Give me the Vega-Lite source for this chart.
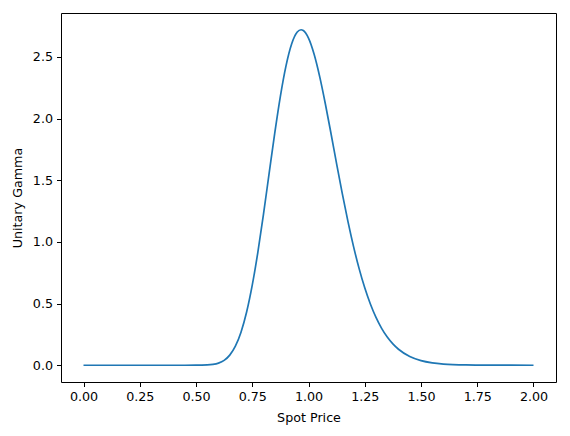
{
  "$schema": "https://vega.github.io/schema/vega-lite/v6.json",
  "width": 495,
  "height": 369,
  "padding": {"left": 61, "top": 13, "right": 14, "bottom": 54},
  "autosize": {"type": "none"},
  "background": "white",
  "config": {
    "view": {"stroke": "black", "strokeWidth": 1},
    "font": "DejaVu Sans",
    "axis": {
      "domain": false,
      "grid": false,
      "tickColor": "black",
      "tickSize": 4.5,
      "tickWidth": 1,
      "labelFont": "DejaVu Sans",
      "labelFontSize": 12.7,
      "labelColor": "black",
      "titleFont": "DejaVu Sans",
      "titleFontSize": 12.7,
      "titleFontWeight": "normal",
      "titleColor": "black"
    }
  },
  "data": {
    "values": [
      {"S": 0.0, "g": 0.0},
      {"S": 0.1, "g": 0.0},
      {"S": 0.2, "g": 0.0},
      {"S": 0.3, "g": 0.0},
      {"S": 0.4, "g": 0.0},
      {"S": 0.45, "g": 0.00001},
      {"S": 0.5, "g": 0.00017},
      {"S": 0.55, "g": 0.00231},
      {"S": 0.575, "g": 0.00674},
      {"S": 0.6, "g": 0.0173},
      {"S": 0.625, "g": 0.03958},
      {"S": 0.65, "g": 0.08191},
      {"S": 0.675, "g": 0.1545},
      {"S": 0.7, "g": 0.268},
      {"S": 0.725, "g": 0.4315},
      {"S": 0.75, "g": 0.6491},
      {"S": 0.775, "g": 0.9175},
      {"S": 0.8, "g": 1.2258},
      {"S": 0.825, "g": 1.5551},
      {"S": 0.85, "g": 1.8819},
      {"S": 0.875, "g": 2.1803},
      {"S": 0.9, "g": 2.4272},
      {"S": 0.925, "g": 2.6045},
      {"S": 0.95, "g": 2.7016},
      {"S": 0.967, "g": 2.72},
      {"S": 0.975, "g": 2.7158},
      {"S": 1.0, "g": 2.6522},
      {"S": 1.025, "g": 2.5213},
      {"S": 1.05, "g": 2.338},
      {"S": 1.075, "g": 2.1184},
      {"S": 1.1, "g": 1.8787},
      {"S": 1.125, "g": 1.633},
      {"S": 1.15, "g": 1.3933},
      {"S": 1.175, "g": 1.1683},
      {"S": 1.2, "g": 0.9639},
      {"S": 1.225, "g": 0.7833},
      {"S": 1.25, "g": 0.6276},
      {"S": 1.275, "g": 0.4963},
      {"S": 1.3, "g": 0.3876},
      {"S": 1.325, "g": 0.2992},
      {"S": 1.35, "g": 0.2285},
      {"S": 1.375, "g": 0.1727},
      {"S": 1.4, "g": 0.1294},
      {"S": 1.45, "g": 0.0706},
      {"S": 1.5, "g": 0.0374},
      {"S": 1.55, "g": 0.01925},
      {"S": 1.6, "g": 0.00967},
      {"S": 1.7, "g": 0.0023},
      {"S": 1.8, "g": 0.0005},
      {"S": 1.9, "g": 0.0001},
      {"S": 2.0, "g": 0.00002}
    ]
  },
  "mark": {"type": "line", "color": "#1f77b4", "strokeWidth": 1.7, "interpolate": "monotone"},
  "encoding": {
    "x": {
      "field": "S",
      "type": "quantitative",
      "scale": {"domain": [-0.1, 2.1], "nice": false, "zero": false},
      "axis": {
        "title": "Spot Price",
        "values": [0, 0.25, 0.5, 0.75, 1.0, 1.25, 1.5, 1.75, 2.0],
        "format": ".2f",
        "labelPadding": 4,
        "titlePadding": 8
      }
    },
    "y": {
      "field": "g",
      "type": "quantitative",
      "scale": {"domain": [-0.136, 2.856], "nice": false, "zero": false},
      "axis": {
        "title": "Unitary Gamma",
        "values": [0, 0.5, 1.0, 1.5, 2.0, 2.5],
        "format": ".1f",
        "labelPadding": 4,
        "titlePadding": 8
      }
    }
  }
}
